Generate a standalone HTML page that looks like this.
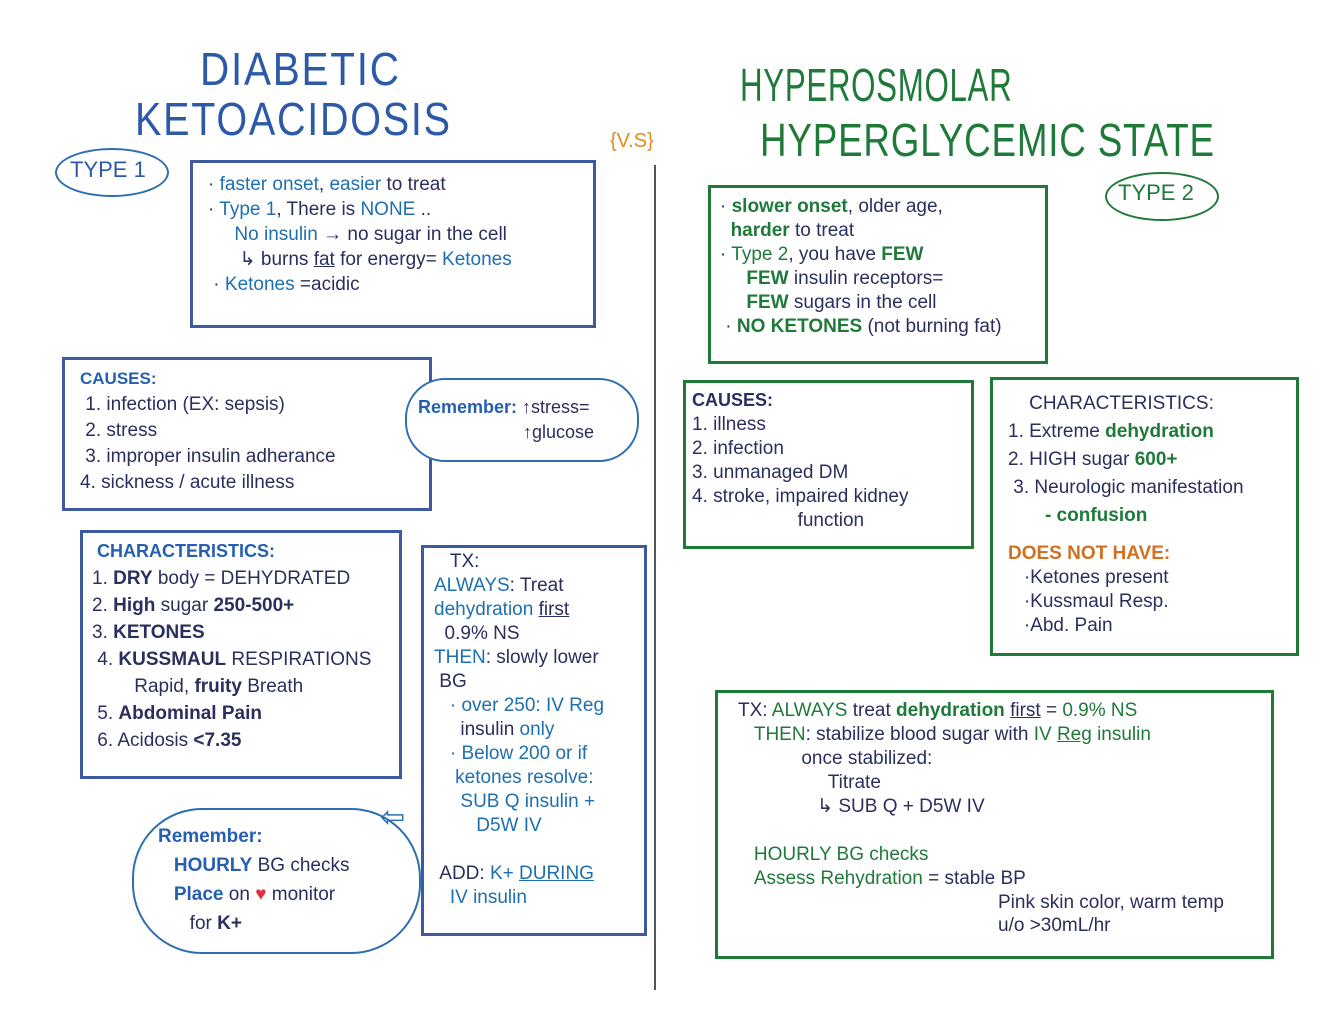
<!DOCTYPE html>
<html><head><meta charset="utf-8"><style>
body{margin:0;width:1330px;height:1016px;background:#fff;position:relative;overflow:hidden;font-family:"Liberation Sans",sans-serif;color:#2b2f5e}
.a{position:absolute;white-space:nowrap}
.sx{transform-origin:0 0}
.box{position:absolute;border:3px solid #3b5aa0}
.g{border-color:#1f7a3a}
.t{font-size:19px;line-height:25px}
.b{color:#2560b0;font-weight:bold}
.lb{color:#1e6fb0}
.gr{color:#1f7a3a}
.gb{color:#1f7a3a;font-weight:bold}
.cloud{position:absolute;border:2px solid #2d6fb0;border-radius:50%}
</style></head><body>
<div style="position:absolute;left:654px;top:165px;width:2px;height:825px;background:#555"></div>
<div class="a sx" style="left:200px;top:42px;font-size:46px;color:#2d5aa8;letter-spacing:2px;transform:scaleX(.88)">DIABETIC</div>
<div class="a sx" style="left:135px;top:92px;font-size:46px;color:#2d5aa8;letter-spacing:2px;transform:scaleX(.86)">KETOACIDOSIS</div>
<div class="a sx" style="left:740px;top:58px;font-size:46px;color:#1f7a3a;letter-spacing:1px;transform:scaleX(.68)">HYPEROSMOLAR</div>
<div class="a sx" style="left:760px;top:113px;font-size:46px;color:#1f7a3a;letter-spacing:1px;transform:scaleX(.8)">HYPERGLYCEMIC STATE</div>
<div class="a" style="left:610px;top:130px;font-size:20px;color:#e08a20">{V.S}</div>
<div class="cloud" style="left:55px;top:148px;width:110px;height:45px"></div>
<div class="a" style="left:70px;top:157px;font-size:22px;color:#2d5aa8">TYPE 1</div>
<div class="cloud" style="left:1105px;top:172px;width:110px;height:45px;border-color:#1f7a3a"></div>
<div class="a" style="left:1118px;top:180px;font-size:22px;color:#1f7a3a">TYPE 2</div>

<div class="box" style="left:190px;top:160px;width:400px;height:162px"></div>
<div class="a t" style="left:208px;top:172px">· <span class="lb">faster onset</span>, <span class="lb">easier</span> to treat<br>· <span class="lb">Type 1</span>, There is <span class="lb">NONE</span> ..<br>&nbsp;&nbsp;&nbsp;&nbsp;&nbsp;<span class="lb">No insulin</span> → no sugar in the cell<br>&nbsp;&nbsp;&nbsp;&nbsp;&nbsp;&nbsp;↳ burns <u>fat</u> for energy= <span class="lb">Ketones</span><br>&nbsp;· <span class="lb">Ketones</span> =acidic</div>

<div class="box" style="left:62px;top:357px;width:364px;height:148px"></div>
<div class="a t" style="left:80px;top:366px;line-height:26px"><span class="b" style="font-size:17px">CAUSES:</span><br>&nbsp;1. infection (EX: sepsis)<br>&nbsp;2. stress<br>&nbsp;3. improper insulin adherance<br>4. sickness / acute illness</div>
<div class="cloud" style="left:405px;top:378px;width:230px;height:80px;border-radius:40px;background:#fff"></div>
<div class="a t" style="left:418px;top:395px;font-size:18px"><span class="b">Remember:</span> ↑stress=<br>&nbsp;&nbsp;&nbsp;&nbsp;&nbsp;&nbsp;&nbsp;&nbsp;&nbsp;&nbsp;&nbsp;&nbsp;&nbsp;&nbsp;&nbsp;&nbsp;&nbsp;&nbsp;&nbsp;&nbsp;&nbsp;↑glucose</div>

<div class="box" style="left:80px;top:530px;width:316px;height:243px"></div>
<div class="a t" style="left:92px;top:538px;line-height:27px"><span class="b" style="font-size:18px">&nbsp;CHARACTERISTICS:</span><br>1. <b>DRY</b> body = DEHYDRATED<br>2. <b>High</b> sugar <b>250-500+</b><br>3. <b>KETONES</b><br>&nbsp;4. <b>KUSSMAUL</b> RESPIRATIONS<br>&nbsp;&nbsp;&nbsp;&nbsp;&nbsp;&nbsp;&nbsp;&nbsp;Rapid, <b>fruity</b> Breath<br>&nbsp;5. <b>Abdominal Pain</b><br>&nbsp;6. Acidosis <b>&lt;7.35</b></div>

<div class="box" style="left:421px;top:545px;width:220px;height:385px"></div>
<div class="a t" style="left:434px;top:550px;line-height:24px">&nbsp;&nbsp;&nbsp;TX:<br><span class="lb">ALWAYS</span>: Treat<br><span class="lb">dehydration</span> <u>first</u><br>&nbsp;&nbsp;0.9% NS<br><span class="lb">THEN</span>: slowly lower<br>&nbsp;BG<br>&nbsp;&nbsp;&nbsp;<span class="lb">· over 250: IV Reg</span><br>&nbsp;&nbsp;&nbsp;&nbsp;&nbsp;insulin <span class="lb">only</span><br>&nbsp;&nbsp;&nbsp;<span class="lb">· Below 200 or if</span><br>&nbsp;&nbsp;&nbsp;&nbsp;<span class="lb">ketones resolve:</span><br>&nbsp;&nbsp;&nbsp;&nbsp;&nbsp;<span class="lb">SUB Q insulin +</span><br>&nbsp;&nbsp;&nbsp;&nbsp;&nbsp;&nbsp;&nbsp;&nbsp;<span class="lb">D5W IV</span><br><br>&nbsp;ADD: <span class="lb">K+ <u>DURING</u></span><br>&nbsp;&nbsp;&nbsp;<span class="lb">IV insulin</span></div>
<div class="a" style="left:380px;top:800px;font-size:30px;color:#2d6fb0">⇦</div>
<div class="cloud" style="left:132px;top:808px;width:285px;height:142px;border-radius:70px"></div>
<div class="a t" style="left:158px;top:822px;line-height:29px"><span class="b">Remember:</span><br>&nbsp;&nbsp;&nbsp;<span class="b">HOURLY</span> BG checks<br>&nbsp;&nbsp;&nbsp;<span class="b">Place</span> on <span style="color:#e03040">♥</span> monitor<br>&nbsp;&nbsp;&nbsp;&nbsp;&nbsp;&nbsp;for <b>K+</b></div>

<div class="box g" style="left:708px;top:185px;width:334px;height:173px"></div>
<div class="a t" style="left:720px;top:195px;line-height:24px">· <span class="gb">slower onset</span>, older age,<br>&nbsp;&nbsp;<span class="gb">harder</span> to treat<br>· <span class="gr">Type 2</span>, you have <span class="gb">FEW</span><br>&nbsp;&nbsp;&nbsp;&nbsp;&nbsp;<span class="gb">FEW</span> insulin receptors=<br>&nbsp;&nbsp;&nbsp;&nbsp;&nbsp;<span class="gb">FEW</span> sugars in the cell<br>&nbsp;· <span class="gb">NO KETONES</span> (not burning fat)</div>

<div class="box g" style="left:683px;top:380px;width:285px;height:163px"></div>
<div class="a t" style="left:692px;top:388px;line-height:24px"><b style="font-size:18px">CAUSES:</b><br>1. illness<br>2. infection<br>3. unmanaged DM<br>4. stroke, impaired kidney<br>&nbsp;&nbsp;&nbsp;&nbsp;&nbsp;&nbsp;&nbsp;&nbsp;&nbsp;&nbsp;&nbsp;&nbsp;&nbsp;&nbsp;&nbsp;&nbsp;&nbsp;&nbsp;&nbsp;&nbsp;function</div>

<div class="box g" style="left:990px;top:377px;width:303px;height:273px"></div>
<div class="a t" style="left:1008px;top:390px;line-height:28px">&nbsp;&nbsp;&nbsp;&nbsp;CHARACTERISTICS:<br>1. Extreme <span class="gb">dehydration</span><br>2. HIGH sugar <span class="gb">600+</span><br>&nbsp;3. Neurologic manifestation<br>&nbsp;&nbsp;&nbsp;&nbsp;&nbsp;&nbsp;&nbsp;<span class="gb">- confusion</span></div>
<div class="a t" style="left:1008px;top:542px;line-height:24px"><b style="color:#d07020">DOES NOT HAVE:</b><br>&nbsp;&nbsp;&nbsp;·Ketones present<br>&nbsp;&nbsp;&nbsp;·Kussmaul Resp.<br>&nbsp;&nbsp;&nbsp;·Abd. Pain</div>

<div class="box g" style="left:715px;top:690px;width:553px;height:263px"></div>
<div class="a t" style="left:738px;top:699px;line-height:24px">TX: <span class="gr">ALWAYS</span> treat <span class="gb">dehydration</span> <u>first</u> = <span class="gr">0.9% NS</span><br>&nbsp;&nbsp;&nbsp;<span class="gr">THEN</span>: stabilize blood sugar with <span class="gr">IV <u>Reg</u> insulin</span><br>&nbsp;&nbsp;&nbsp;&nbsp;&nbsp;&nbsp;&nbsp;&nbsp;&nbsp;&nbsp;&nbsp;&nbsp;once stabilized:<br>&nbsp;&nbsp;&nbsp;&nbsp;&nbsp;&nbsp;&nbsp;&nbsp;&nbsp;&nbsp;&nbsp;&nbsp;&nbsp;&nbsp;&nbsp;&nbsp;&nbsp;Titrate<br>&nbsp;&nbsp;&nbsp;&nbsp;&nbsp;&nbsp;&nbsp;&nbsp;&nbsp;&nbsp;&nbsp;&nbsp;&nbsp;&nbsp;&nbsp;↳ SUB Q + D5W IV<br><br>&nbsp;&nbsp;&nbsp;<span class="gr">HOURLY BG checks</span><br>&nbsp;&nbsp;&nbsp;<span class="gr">Assess Rehydration</span> = stable BP</div>
<div class="a t" style="left:998px;top:891px;line-height:23px">Pink skin color, warm temp<br>u/o &gt;30mL/hr</div>
</body></html>
